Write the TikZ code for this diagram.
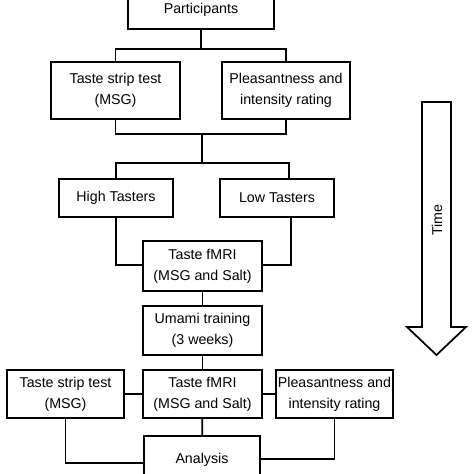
\documentclass[tikz,border=0pt]{standalone}
\usepackage{fontspec}
\setmainfont{Liberation Sans}
\usetikzlibrary{calc}
\begin{document}
\begin{tikzpicture}[x=0.02cm,y=-0.02cm,line width=1pt,
  box/.style={draw,align=center,inner sep=0pt,font=\fontsize{8.1}{11.95}\selectfont},
  wide/.style={box,minimum width=2.58cm,minimum height=1.14cm},
  small/.style={box,minimum width=2.28cm,minimum height=0.76cm},
  mid/.style={box,minimum width=2.38cm},
  low3/.style={box,minimum width=2.34cm,minimum height=0.96cm}]
\clip (0,0) rectangle (474,474);
\fill[white] (0,0) rectangle (474,474);
% boxes
\node[box,minimum width=2.92cm,minimum height=0.76cm] (part) at (201,10) {Participants};
\node[wide] (strip1) at (115.5,90.5) {Taste strip test\\(MSG)};
\node[wide,minimum width=2.56cm] (pleas1) at (286,90.5) {Pleasantness and\\intensity rating};
\node[small] (high) at (116,198) {High Tasters};
\node[small] (low) at (277,198) {Low Tasters};
\node[mid,minimum height=1.0cm] (fmri1) at (202.5,266) {Taste fMRI\\(MSG and Salt)};
\node[mid,minimum height=0.98cm] (umami) at (202.5,330.5) {Umami training\\(3 weeks)};
\node[mid,minimum height=0.96cm] (fmri2) at (202.5,394) {Taste fMRI\\(MSG and Salt)};
\node[low3] (strip2) at (65.5,394) {Taste strip test\\(MSG)};
\node[low3] (pleas2) at (334.5,394) {Pleasantness and\\intensity rating};
\node[box,minimum width=2.32cm,minimum height=0.96cm] (ana) at (202,460) {Analysis};
% connectors
\draw (part.south) -- ++(0,19) coordinate (j1);
\draw (strip1.north) |- (j1) -| (pleas1.north);
\draw (strip1.south) -- ++(0,14) coordinate (j2) -- (j2 -| pleas1.south) -- (pleas1.south);
\draw (202,133) coordinate (j3) -- ++(0,30) coordinate (j4);
\coordinate (lowtop) at ($(low.north)+(12,0)$);
\coordinate (lowbot) at ($(low.south)+(14,0)$);
\draw (high.north) |- (j4) -| (lowtop);
\draw (high.south) |- ($(fmri1.west)+(0,-1)$);
\draw (lowbot) |- ($(fmri1.east)+(0,-1)$);
\draw (fmri1) -- (umami);
\draw (umami) -- (fmri2);
\draw (strip2) -- (fmri2);
\draw (fmri2) -- (pleas2);
\draw (fmri2) -- (ana);
\draw (strip2.south) |- ($(ana.west)+(0,3)$);
\draw (pleas2.south) |- ($(ana.east)+(0,-1)$);
% time arrow
\draw (422,102) -- (451,102) -- (451,327) -- (466,327) -- (436.5,355) -- (407,327) -- (422,327) -- cycle;
\node[rotate=90,font=\fontsize{8.1}{11.95}\selectfont] (time) at (437,220) {Time};
\end{tikzpicture}
\end{document}
